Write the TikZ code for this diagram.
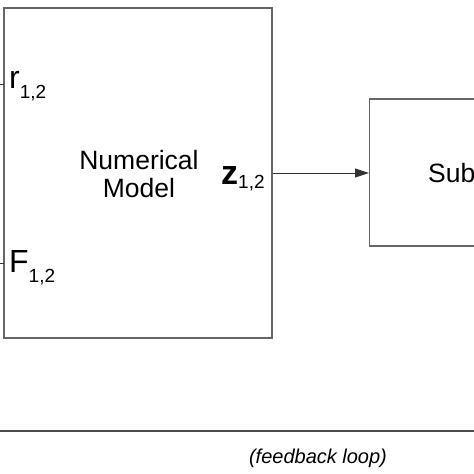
\documentclass[tikz,border=0pt]{standalone}
\usepackage{fontspec}
\setmainfont{Liberation Sans}
\usetikzlibrary{arrows.meta}
\newcommand{\bigsym}[4]{{\fontsize{#1}{#1}\selectfont #2}\raisebox{-#4pt}{\fontsize{19}{19}\selectfont #3}}
\tikzset{
  blockbox/.style={draw=black!60, line width=1.3pt, fill=none, inner sep=0pt},
  sigline/.style={draw=black!80, line width=0.9pt},
  lbl/.style={anchor=base west, inner sep=0pt, text=black},
  bodytext/.style={inner sep=0pt, font=\fontsize{26.5}{28}\selectfont, align=center, text=black}
}
\begin{document}
\begin{tikzpicture}[x=1pt,y=-1pt]
\useasboundingbox (0,0) rectangle (474,474);
\clip (0,0) rectangle (474,474);
% left block
\node[blockbox, minimum width=268pt, minimum height=330pt] (nm) at (138,173) {};
% right block (cropped)
\node[blockbox, minimum width=230pt, minimum height=147pt, anchor=west] (sub) at (369,172.5) {};
% stubs
\coordinate (rin) at (0,84);
\coordinate (fin) at (0,263);
\coordinate (rst) at (4,84);
\coordinate (fst) at (4,263);
\draw[sigline] (rin) -- (rst);
\draw[sigline] (fin) -- (fst);
% labels
\node[lbl] (rlbl) at (9,88) {\bigsym{32}{r}{1,2}{10}};
\node[lbl] (flbl) at (9,272) {\bigsym{32}{F}{1,2}{10}};
\node[lbl] (zlbl) at (221,184) {{\fontsize{34}{34}\selectfont\bfseries z}\raisebox{-4pt}{\fontsize{19}{19}\selectfont 1,2}};
\node[bodytext, anchor=base] (nmtxt) at (139,197) {Numerical\\Model};
\node[lbl, font=\fontsize{26.5}{26.5}\selectfont] (subtxt) at (428,182) {Sub};
% arrow
\draw[sigline, -{Triangle[length=14pt,width=9pt]}] (nm.east |- 0,173) -- (sub.west |- 0,173);
% feedback line
\coordinate (fbL) at (0,431);
\coordinate (fbR) at (474,431);
\draw[draw=black!70, line width=1.3pt] (fbL) -- (fbR);
\node[inner sep=0pt, anchor=base, font=\fontsize{20}{20}\selectfont\itshape] (fbtxt) at (318,463) {(feedback loop)};
\end{tikzpicture}
\end{document}
